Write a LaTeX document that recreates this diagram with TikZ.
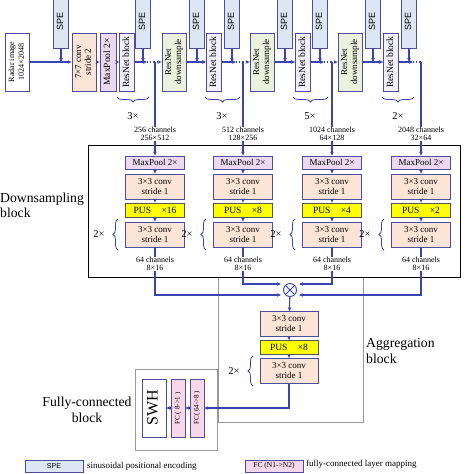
\documentclass[tikz,border=0pt]{standalone}
\usepackage{fontspec}
\setmainfont{Liberation Serif}
\setsansfont{Liberation Sans}
\usetikzlibrary{arrows.meta,decorations.pathreplacing}
\definecolor{lcol}{RGB}{58,68,176}
\definecolor{bcol}{RGB}{76,76,160}
\definecolor{specol}{RGB}{220,231,243}
\definecolor{pchcol}{RGB}{252,229,215}
\definecolor{mpcol}{RGB}{236,217,240}
\definecolor{lavcol}{RGB}{242,240,250}
\definecolor{grncol}{RGB}{236,241,222}
\definecolor{fccol}{RGB}{247,215,233}
\definecolor{ycol}{RGB}{255,255,0}
\definecolor{pcol}{RGB}{85,85,85}
\newcommand{\vtext}[1]{\rotatebox{90}{\begin{tabular}{@{}c@{}}#1\end{tabular}}}
\tikzset{every picture/.style={x=1pt,y=-1pt}}
\tikzset{box/.style={draw=bcol,line width=0.8pt,inner sep=0pt,align=center,font=\fontsize{9}{10}\selectfont}}
\tikzset{vbox/.style={box,minimum width=24,minimum height=58}}
\tikzset{spe/.style={box,fill=specol,minimum width=15,minimum height=54,font=\sffamily\fontsize{9}{10}\selectfont}}
\tikzset{rblock/.style={box,fill=lavcol,minimum width=15,minimum height=58,font=\fontsize{9.5}{10}\selectfont}}
\tikzset{conv/.style={box,fill=pchcol,minimum width=59,minimum height=25}}
\tikzset{mpool/.style={box,fill=mpcol,minimum width=59,minimum height=13}}
\tikzset{pus/.style={box,draw=pcol,fill=ycol,minimum width=59,minimum height=14,font=\fontsize{9.5}{10}\selectfont}}
\tikzset{fc/.style={box,fill=fccol,minimum width=14,minimum height=58,font=\fontsize{7}{8}\selectfont}}
\tikzset{edge/.style={lcol,line width=1.1pt,-{Stealth[length=4pt,width=3.6pt]}}}
\tikzset{wire/.style={lcol,line width=1.1pt}}
\tikzset{tap/.style={lcol,line width=1.5pt}}
\tikzset{dots/.style={lcol,line width=1.1pt,dash pattern=on 1.2pt off 2pt}}
\tikzset{chan/.style={align=center,inner sep=0pt,font=\fontsize{8}{8.5}\selectfont}}
\tikzset{brc/.style={lcol,line width=0.8pt,decorate,decoration={brace,amplitude=5pt}}}
\tikzset{rep/.style={inner sep=0pt,font=\fontsize{10.5}{11}\selectfont}}
\tikzset{big/.style={inner sep=0pt,align=left,font=\fontsize{13.7}{15.5}\selectfont}}
\tikzset{gblk/.style={draw=black!40,line width=0.8pt,inner sep=0pt}}
\tikzset{legtxt/.style={anchor=west,inner sep=0pt,font=\fontsize{9}{10}\selectfont}}
\begin{document}
\begin{tikzpicture}
\useasboundingbox (0,0) rectangle (474,474);
\clip (0,0) rectangle (474,474);

\node [vbox,font=\fontsize{8}{10}\selectfont] (radar) at (17,62) {\vtext{Radar image\\1024×2048}};
\node [vbox,fill=pchcol] (conv7) at (84,62) {\vtext{7×7 conv\\stride 2}};
\node [vbox,fill=mpcol,minimum width=16,font=\fontsize{9.5}{10}\selectfont] (maxp) at (108,62) {\vtext{MaxPool 2×}};
\node [rblock] (rb1) at (127,62) {\vtext{ResNet block}};
\node [vbox,fill=grncol] (rd1) at (174,62) {\vtext{ResNet\\downsample}};
\node [rblock] (rb2) at (214,62) {\vtext{ResNet block}};
\node [vbox,fill=grncol] (rd2) at (262,62) {\vtext{ResNet\\downsample}};
\node [rblock] (rb3) at (303,62) {\vtext{ResNet block}};
\node [vbox,fill=grncol] (rd3) at (350,62) {\vtext{ResNet\\downsample}};
\node [rblock] (rb4) at (391,62) {\vtext{ResNet block}};

\node [spe] (spe1) at (61,21) {\vtext{SPE}};
\node [spe] (spe2) at (143,21) {\vtext{SPE}};
\node [spe] (spe3) at (197,21) {\vtext{SPE}};
\node [spe] (spe4) at (232,21) {\vtext{SPE}};
\node [spe] (spe5) at (285,21) {\vtext{SPE}};
\node [spe] (spe6) at (320,21) {\vtext{SPE}};
\node [spe] (spe7) at (373,21) {\vtext{SPE}};
\node [spe] (spe8) at (409,21) {\vtext{SPE}};

\coordinate (j1) at (61,62);
\coordinate (j2) at (143,62);
\coordinate (j3) at (197,62);
\coordinate (j4) at (232,62);
\coordinate (j5) at (285,62);
\coordinate (j6) at (320,62);
\coordinate (j7) at (373,62);
\coordinate (j8) at (409,62);

\coordinate (d1) at (147,62);
\coordinate (t1) at (155,62);
\coordinate (e1) at (159,62);
\coordinate (d2) at (236,62);
\coordinate (t2) at (243,62);
\coordinate (e2) at (247,62);
\coordinate (d3) at (324,62);
\coordinate (t3) at (332,62);
\coordinate (e3) at (335,62);
\coordinate (d4) at (413,62);
\coordinate (t4) at (421,62);

\draw [edge] (spe1) -- (j1);
\draw [edge] (spe2) -- (j2);
\draw [edge] (spe3) -- (j3);
\draw [edge] (spe4) -- (j4);
\draw [edge] (spe5) -- (j5);
\draw [edge] (spe6) -- (j6);
\draw [edge] (spe7) -- (j7);
\draw [edge] (spe8) -- (j8);

\draw [edge] (radar) -- (conv7);
\draw [edge] (conv7) -- (maxp);
\draw [edge] (maxp) -- (rb1);
\draw [edge] (rb1) -- (d1);
\draw [dots] (d1) -- (e1);
\draw [edge] (e1) -- (rd1);
\draw [edge] (rd1) -- (rb2);
\draw [edge] (rb2) -- (d2);
\draw [dots] (d2) -- (e2);
\draw [edge] (e2) -- (rd2);
\draw [edge] (rd2) -- (rb3);
\draw [edge] (rb3) -- (d3);
\draw [dots] (d3) -- (e3);
\draw [edge] (e3) -- (rd3);
\draw [edge] (rd3) -- (rb4);
\draw [edge] (rb4) -- (d4);
\draw [dots] (d4) -- (t4);

\draw [brc] (149,97) -- (117,97);
\draw [brc] (240,97) -- (205,97);
\draw [brc] (328,97) -- (293,97);
\draw [brc] (414,97) -- (382,97);
\node [rep] (n1) at (133,116) {3×};
\node [rep] (n2) at (222,116) {3×};
\node [rep] (n3) at (310,116) {5×};
\node [rep] (n4) at (398,116) {2×};

\node [chan] (ch1) at (155,134) {256 channels\\256×512};
\node [chan] (ch2) at (243,134) {512 channels\\128×256};
\node [chan] (ch3) at (332,134) {1024 channels\\64×128};
\node [chan] (ch4) at (421,134) {2048 channels\\32×64};

\node [gblk,minimum width=145,minimum height=145] (agg) at (290.5,349.5) {};
\node [gblk,minimum width=82,minimum height=81] (fcb) at (176,409.5) {};
\node [draw=black,line width=0.9pt,inner sep=0pt,minimum width=372,minimum height=132] (ds) at (274,211) {};

\node [mpool] (mp1) at (155,162.5) {MaxPool 2×};
\node [conv] (ca1) at (155,186.5) {3×3 conv\\stride 1};
\node [pus] (pu1) at (155,210) {PUS\hspace{1.1em}×16};
\node [conv] (cb1) at (155,234.5) {3×3 conv\\stride 1};
\node [chan] (oc1) at (155,264) {64 channels\\8×16};

\node [mpool] (mp2) at (243,162.5) {MaxPool 2×};
\node [conv] (ca2) at (243,186.5) {3×3 conv\\stride 1};
\node [pus] (pu2) at (243,210) {PUS\hspace{1.1em}×8};
\node [conv] (cb2) at (243,234.5) {3×3 conv\\stride 1};
\node [chan] (oc2) at (243,264) {64 channels\\8×16};

\node [mpool] (mp3) at (332,162.5) {MaxPool 2×};
\node [conv] (ca3) at (332,186.5) {3×3 conv\\stride 1};
\node [pus] (pu3) at (332,210) {PUS\hspace{1.1em}×4};
\node [conv] (cb3) at (332,234.5) {3×3 conv\\stride 1};
\node [chan] (oc3) at (332,264) {64 channels\\8×16};

\node [mpool] (mp4) at (421,162.5) {MaxPool 2×};
\node [conv] (ca4) at (421,186.5) {3×3 conv\\stride 1};
\node [pus] (pu4) at (421,210) {PUS\hspace{1.1em}×2};
\node [conv] (cb4) at (421,234.5) {3×3 conv\\stride 1};
\node [chan] (oc4) at (421,264) {64 channels\\8×16};

\draw [tap] (t1) -- (ch1);
\draw [tap] (t2) -- (ch2);
\draw [tap] (t3) -- (ch3);
\draw [tap] (t4) -- (ch4);
\draw [edge] (ch1) -- (mp1);
\draw [edge] (ch2) -- (mp2);
\draw [edge] (ch3) -- (mp3);
\draw [edge] (ch4) -- (mp4);

\draw [edge] (mp1) -- (ca1);
\draw [edge] (ca1) -- (pu1);
\draw [edge] (pu1) -- (cb1);
\draw [wire] (cb1) -- (oc1);
\draw [edge] (mp2) -- (ca2);
\draw [edge] (ca2) -- (pu2);
\draw [edge] (pu2) -- (cb2);
\draw [wire] (cb2) -- (oc2);
\draw [edge] (mp3) -- (ca3);
\draw [edge] (ca3) -- (pu3);
\draw [edge] (pu3) -- (cb3);
\draw [wire] (cb3) -- (oc3);
\draw [edge] (mp4) -- (ca4);
\draw [edge] (ca4) -- (pu4);
\draw [edge] (pu4) -- (cb4);
\draw [wire] (cb4) -- (oc4);

\draw [brc] (118,250) -- (118,219);
\draw [brc] (206,250) -- (206,219);
\draw [brc] (295,250) -- (295,219);
\draw [brc] (384,250) -- (384,219);
\node [rep] (r1) at (99,234) {2×};
\node [rep] (r2) at (187,234) {2×};
\node [rep] (r3) at (276,234) {2×};
\node [rep] (r4) at (365,234) {2×};

\node [circle,draw=lcol,line width=0.9pt,fill=white,minimum size=13,inner sep=0pt,
  path picture={\draw [lcol,line width=0.9pt] (path picture bounding box.north west) -- (path picture bounding box.south east)
  (path picture bounding box.north east) -- (path picture bounding box.south west);}] (mix) at (290,290) {};
\coordinate (m1) at (281,295);
\coordinate (m2) at (281,284);
\coordinate (m3) at (299,284);
\coordinate (m4) at (299,295);
\draw [edge] (oc1) |- (m1);
\draw [edge] (oc2) |- (m2);
\draw [edge] (oc3) |- (m3);
\draw [edge] (oc4) |- (m4);

\node [conv,minimum width=58] (ag1) at (289,324) {3×3 conv\\stride 1};
\node [pus,minimum width=58] (agp) at (289,347.5) {PUS\hspace{1.1em}×8};
\node [conv,minimum width=58] (ag2) at (289,371) {3×3 conv\\stride 1};
\draw [edge] (mix) -- (ag1);
\draw [edge] (ag1) -- (agp);
\draw [edge] (agp) -- (ag2);
\draw [brc] (253,386) -- (253,356);
\node [rep] (r5) at (234,371) {2×};

\node [fc] (fc64) at (197,408) {\vtext{FC\,(\,64->8\,)}};
\node [fc] (fc8) at (178,408) {\vtext{FC\,(\,\,8->1\,\,)}};
\node [box,minimum width=24,minimum height=58,font=\fontsize{16}{18}\selectfont] (swh) at (154,408) {\vtext{SWH}};
\draw [edge] (ag2) |- (fc64);
\draw [edge] (fc64) -- (fc8);
\draw [edge] (fc8) -- (swh);

\node [big,anchor=west] (dslab) at (0,205.5) {Downsampling\\block};
\node [big,anchor=west] (aglab) at (366,351) {Aggregation\\block};
\node [big,align=center] (fclab) at (87,410) {Fully-connected\\block};

\node [box,fill=specol,minimum width=58,minimum height=12,font=\sffamily\fontsize{7}{8}\selectfont] (lspe) at (54,466) {SPE};
\node [legtxt] (lspetxt) at (87,466) {sinusoidal positional encoding};
\node [box,fill=fccol,minimum width=58,minimum height=12,font=\fontsize{7.5}{8}\selectfont] (lfc) at (274,466) {FC (N1->N2)};
\node [legtxt] (lfctxt) at (306,464) {fully-connected layer mapping};
\end{tikzpicture}
\end{document}
